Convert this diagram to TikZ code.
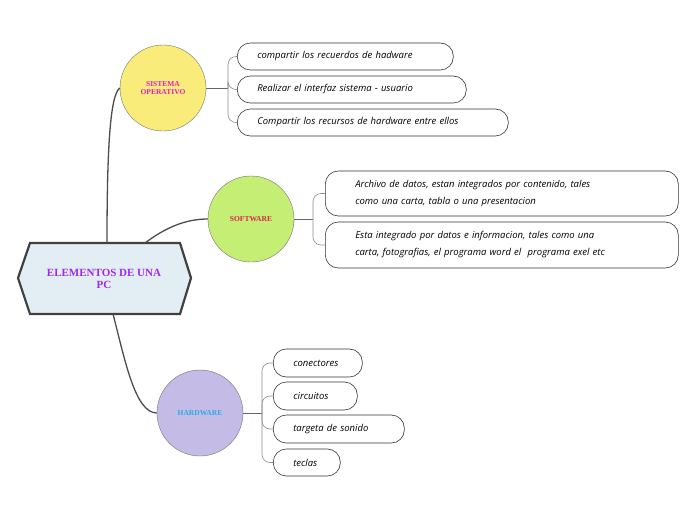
\documentclass[tikz,border=0pt]{standalone}
\usepackage{fontspec}
\setmainfont{Open Sans}[WordSpace={1.6}]
\newfontfamily\titlefont{Liberation Serif}
\begin{document}
\begin{tikzpicture}[x=1pt,y=-1pt,
  leaf/.style={draw=black!80,rounded corners=13pt,line width=0.6pt,anchor=west,inner sep=0pt,font=\itshape\fontsize{9.5}{17}\selectfont,align=left},
  topic/.style={circle,draw=black!55,minimum size=86pt,inner sep=0pt,font=\titlefont\bfseries\fontsize{7.5}{8}\selectfont,align=center},
  mainline/.style={draw=black!70,line width=1.3pt},
  subline/.style={draw=black!45,line width=0.6pt,rounded corners=8pt}]
\useasboundingbox (0,0) rectangle (696,520);
\fill[fill={rgb,255:red,226;green,238;blue,244}] (30,243)--(180,243)--(191,278)--(180,314)--(30,314)--(18,278)--cycle;
\draw[black!75,line width=2.2pt] (30,243)--(180,243)--(191,278)--(180,314)--(30,314)--(18,278)--cycle;
\node[font=\titlefont\bfseries\fontsize{11}{12}\selectfont,text={rgb,255:red,160;green,40;blue,240},align=center] (title) at (104,279) {ELEMENTOS DE UNA\\PC};
\coordinate (h1) at (107,243); \coordinate (h2) at (145,243); \coordinate (h3) at (113,314);
\node[topic,fill={rgb,255:red,250;green,236;blue,122},text={rgb,255:red,230;green,30;blue,190}] (so) at (163,88) {SISTEMA\\OPERATIVO};
\node[topic,fill={rgb,255:red,196;green,238;blue,116},text={rgb,255:red,225;green,30;blue,80}] (sw) at (251,219) {SOFTWARE};
\node[topic,fill={rgb,255:red,196;green,188;blue,230},text={rgb,255:red,40;green,170;blue,230}] (hw) at (200,413) {HARDWARE};
\draw[mainline] (h1) .. controls (107,150) and (110,95) .. (so.west);
\draw[mainline] (h2) .. controls (165,228) and (185,219) .. (sw.west);
\draw[mainline] (h3) .. controls (125,360) and (135,413) .. (hw.west);
% SO leaves
\node[leaf,minimum width=216pt,minimum height=27pt,text width=196pt] (a1) at (237,56.5) {\hspace*{10pt}compartir los recuerdos de hadware};
\node[leaf,minimum width=229pt,minimum height=27pt,text width=209pt] (a2) at (237,89.5) {\hspace*{10pt}Realizar el interfaz sistema - usuario};
\node[leaf,minimum width=271pt,minimum height=27pt,text width=251pt] (a3) at (237,122.5) {\hspace*{10pt}Compartir los recursos de hardware entre ellos};
\coordinate (ja) at (228,88);
\draw[black!60,line width=1pt] (so.east) -- (ja);
\foreach \b in {a1,a2,a3} \draw[subline] (ja) |- (\b.west);
% SW leaves
\node[leaf,minimum width=353pt,minimum height=45pt,text width=333pt] (b1) at (325,193.5) {\hspace*{20pt}\parbox{310pt}{Archivo de datos, estan integrados por contenido, tales\\como una carta, tabla o una presentacion}};
\node[leaf,minimum width=353pt,minimum height=46pt,text width=333pt] (b2) at (325,245) {\hspace*{20pt}\parbox{310pt}{Esta integrado por datos e informacion, tales como una\\carta, fotografias, el programa word el\ \ programa exel etc}};
\coordinate (jb) at (313,219);
\draw[black!60,line width=1pt] (sw.east) -- (jb);
\foreach \b in {b1,b2} \draw[subline] (jb) |- (\b.west);
% HW leaves
\node[leaf,minimum width=89pt,minimum height=28pt,text width=69pt] (c1) at (273,363) {\hspace*{10pt}conectores};
\node[leaf,minimum width=84pt,minimum height=28pt,text width=64pt] (c2) at (273,396) {\hspace*{10pt}circuitos};
\node[leaf,minimum width=131pt,minimum height=28pt,text width=111pt] (c3) at (273,429) {\hspace*{10pt}targeta de sonido};
\node[leaf,minimum width=67pt,minimum height=27pt,text width=47pt] (c4) at (273,462.5) {\hspace*{10pt}teclas};
\coordinate (jc) at (262,413);
\draw[black!60,line width=1pt] (hw.east) -- (jc);
\foreach \b in {c1,c2,c3,c4} \draw[subline] (jc) |- (\b.west);
\end{tikzpicture}
\end{document}
